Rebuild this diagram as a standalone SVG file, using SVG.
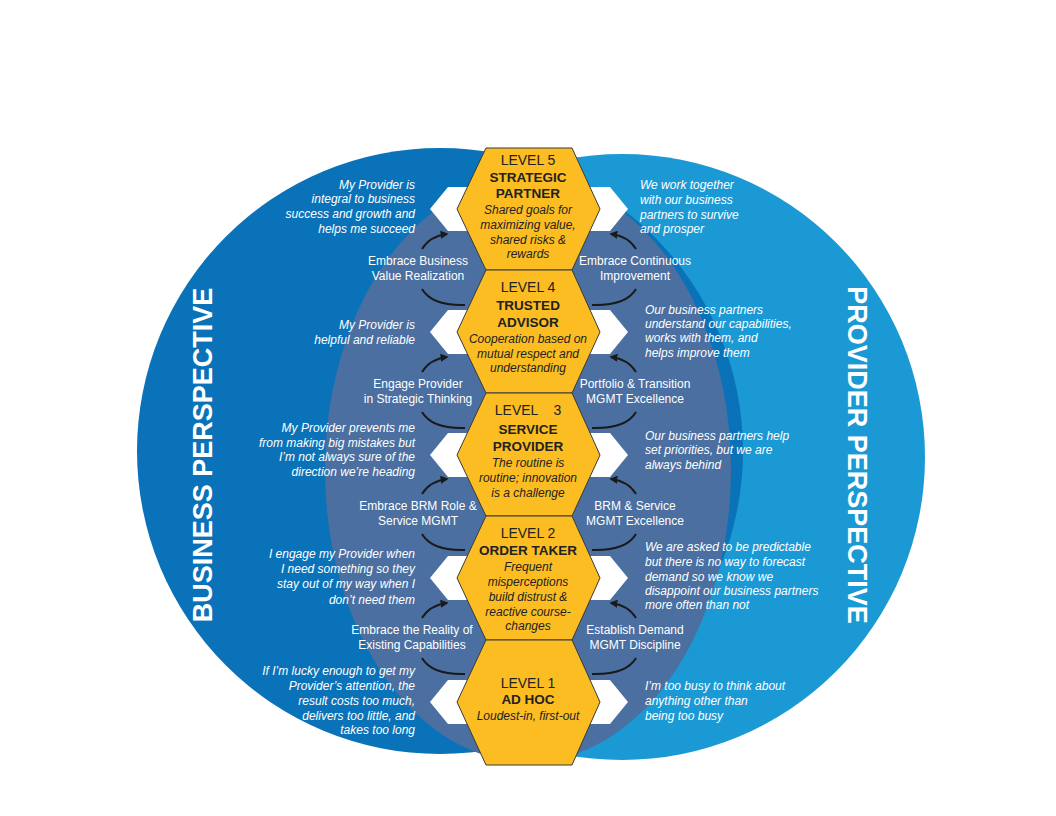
<svg xmlns="http://www.w3.org/2000/svg" width="1056" height="816" viewBox="0 0 1056 816">
<defs>
<style>
text{font-family:"Liberation Sans",Arial,sans-serif;font-size:12px}
.d{fill:#fff;font-style:italic}
.l{fill:#fff;text-anchor:middle}
.h{fill:#222;text-anchor:middle}
.hb{fill:#222;text-anchor:middle;font-weight:bold;font-size:13.5px}
.hl{fill:#222;text-anchor:middle;font-size:14px}
.hi{fill:#222;text-anchor:middle;font-style:italic}
.hex{fill:#fbbd22;stroke:#3a3a3a;stroke-width:1}
.wa{fill:#fff}
.arc{fill:none;stroke:#1a1a1a;stroke-width:2}
.big{fill:#fff;font-weight:bold;font-size:27px;text-anchor:middle}
</style>
<marker id="ah" viewBox="0 0 10 10" refX="8" refY="5" markerWidth="4" markerHeight="4" orient="auto"><path d="M0,0L10,5L0,10z" fill="#1a1a1a"/></marker>
<g id="arcs">
<path class="arc" d="M422,249 Q430,236 447,234" marker-end="url(#ah)"/>
<path class="arc" d="M422,289 Q432,306 465,305"/>
<path class="arc" d="M636,249 Q628,236 611,234" marker-end="url(#ah)"/>
<path class="arc" d="M636,289 Q626,306 592,305"/>
</g>
</defs>
<rect width="1056" height="816" fill="#fff"/>
<circle cx="622" cy="457" r="303" fill="#1b99d5"/>
<circle cx="440" cy="451" r="303" fill="#0a72b8"/>
<ellipse cx="528" cy="470" rx="203" ry="292" fill="#4a6fa0"/>
<text class="big" transform="translate(212,455) rotate(-90)">BUSINESS PERSPECTIVE</text>
<text class="big" transform="translate(848,455) rotate(90)">PROVIDER PERSPECTIVE</text>
<g id="connectors">
<g fill="#fff">
<path d="M448,187H495V231H448L430,209z"/><path d="M610,187H562V231H610L628,209z"/>
<path d="M448,310H495V354H448L430,332z"/><path d="M610,310H562V354H610L628,332z"/>
<path d="M448,433H495V477H448L430,455z"/><path d="M610,433H562V477H610L628,455z"/>
<path d="M448,556H495V600H448L430,578z"/><path d="M610,556H562V600H610L628,578z"/>
<path d="M448,680H495V724H448L430,702z"/><path d="M610,680H562V724H610L628,702z"/>
</g>
<use href="#arcs"/>
<use href="#arcs" y="123"/>
<use href="#arcs" y="245"/>
<use href="#arcs" y="369"/>
</g>
<g id="level5">
<polygon class="hex" points="486,148 572,148 600,209 572,270 486,270 457,209"/>
<text class="hl" x="528" y="165">LEVEL 5</text>
<text class="hb" x="528" y="182">STRATEGIC</text>
<text class="hb" x="528" y="198">PARTNER</text>
<text class="hi" x="528" y="214">Shared goals for</text>
<text class="hi" x="528" y="229">maximizing value,</text>
<text class="hi" x="528" y="244">shared risks &amp;</text>
<text class="hi" x="528" y="258">rewards</text>
</g>
<g id="level4">
<polygon class="hex" points="486,270 572,270 600,332 572,393 486,393 457,332"/>
<text class="hl" x="528" y="292">LEVEL 4</text>
<text class="hb" x="528" y="310">TRUSTED</text>
<text class="hb" x="528" y="327">ADVISOR</text>
<text class="hi" x="528" y="343">Cooperation based on</text>
<text class="hi" x="528" y="358">mutual respect and</text>
<text class="hi" x="528" y="372">understanding</text>
</g>
<g id="level3">
<polygon class="hex" points="486,393 572,393 600,455 572,516 486,516 457,455"/>
<text class="hl" x="528" y="415" xml:space="preserve">LEVEL    3</text>
<text class="hb" x="528" y="434">SERVICE</text>
<text class="hb" x="528" y="451">PROVIDER</text>
<text class="hi" x="528" y="467">The routine is</text>
<text class="hi" x="528" y="482">routine; innovation</text>
<text class="hi" x="528" y="497">is a challenge</text>
</g>
<g id="level2">
<polygon class="hex" points="486,516 572,516 600,578 572,640 486,640 457,578"/>
<text class="hl" x="528" y="538">LEVEL 2</text>
<text class="hb" x="528" y="555">ORDER TAKER</text>
<text class="hi" x="528" y="571">Frequent</text>
<text class="hi" x="528" y="586">misperceptions</text>
<text class="hi" x="528" y="601">build distrust &amp;</text>
<text class="hi" x="528" y="616">reactive course-</text>
<text class="hi" x="528" y="630">changes</text>
</g>
<g id="level1">
<polygon class="hex" points="486,640 572,640 600,702 572,765 486,765 457,702"/>
<text class="hl" x="528" y="688">LEVEL 1</text>
<text class="hb" x="528" y="704">AD HOC</text>
<text class="hi" x="528" y="720">Loudest-in, first-out</text>
</g>
<g id="left-texts" text-anchor="end">
<text class="d" x="415" y="189">My Provider is</text>
<text class="d" x="415" y="203">integral to business</text>
<text class="d" x="415" y="218">success and growth and</text>
<text class="d" x="415" y="233">helps me succeed</text>
<text class="d" x="415" y="329">My Provider is</text>
<text class="d" x="415" y="344">helpful and reliable</text>
<text class="d" x="415" y="432">My Provider prevents me</text>
<text class="d" x="415" y="447">from making big mistakes but</text>
<text class="d" x="415" y="461">I’m not always sure of the</text>
<text class="d" x="415" y="476">direction we’re heading</text>
<text class="d" x="415" y="558">I engage my Provider when</text>
<text class="d" x="415" y="573">I need something so they</text>
<text class="d" x="415" y="588">stay out of my way when I</text>
<text class="d" x="415" y="604">don’t need them</text>
<text class="d" x="415" y="675">If I’m lucky enough to get my</text>
<text class="d" x="415" y="690">Provider’s attention, the</text>
<text class="d" x="415" y="705">result costs too much,</text>
<text class="d" x="415" y="720">delivers too little, and</text>
<text class="d" x="415" y="734">takes too long</text>
</g>
<g id="right-texts">
<text class="d" x="640" y="189">We work together</text>
<text class="d" x="640" y="204">with our business</text>
<text class="d" x="640" y="219">partners to survive</text>
<text class="d" x="640" y="233">and prosper</text>
<text class="d" x="645" y="314">Our business partners</text>
<text class="d" x="645" y="328">understand our capabilities,</text>
<text class="d" x="645" y="342">works with them, and</text>
<text class="d" x="645" y="357">helps improve them</text>
<text class="d" x="645" y="440">Our business partners help</text>
<text class="d" x="645" y="454">set priorities, but we are</text>
<text class="d" x="645" y="469">always behind</text>
<text class="d" x="645" y="551">We are asked to be predictable</text>
<text class="d" x="645" y="566">but there is no way to forecast</text>
<text class="d" x="645" y="581">demand so we know we</text>
<text class="d" x="645" y="595">disappoint our business partners</text>
<text class="d" x="645" y="609">more often than not</text>
<text class="d" x="645" y="690">I’m too busy to think about</text>
<text class="d" x="645" y="705">anything other than</text>
<text class="d" x="645" y="720">being too busy</text>
</g>
<g id="labels">
<text class="l" x="418" y="265">Embrace Business</text>
<text class="l" x="418" y="280">Value Realization</text>
<text class="l" x="635" y="265">Embrace Continuous</text>
<text class="l" x="635" y="280">Improvement</text>
<text class="l" x="418" y="388">Engage Provider</text>
<text class="l" x="418" y="403">in Strategic Thinking</text>
<text class="l" x="635" y="388">Portfolio &amp; Transition</text>
<text class="l" x="635" y="403">MGMT Excellence</text>
<text class="l" x="418" y="510">Embrace BRM Role &amp;</text>
<text class="l" x="418" y="525">Service MGMT</text>
<text class="l" x="635" y="510">BRM &amp; Service</text>
<text class="l" x="635" y="525">MGMT Excellence</text>
<text class="l" x="412" y="634">Embrace the Reality of</text>
<text class="l" x="412" y="649">Existing Capabilities</text>
<text class="l" x="635" y="634">Establish Demand</text>
<text class="l" x="635" y="649">MGMT Discipline</text>
</g>
</svg>
